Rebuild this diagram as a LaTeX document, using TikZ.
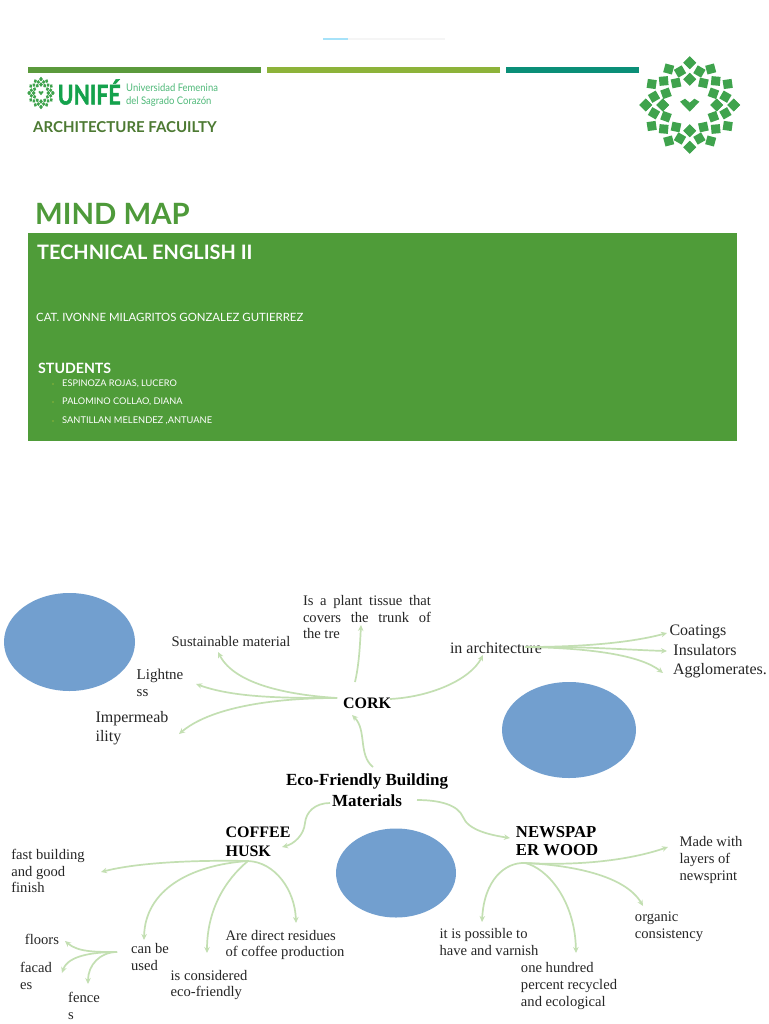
\documentclass[tikz,border=0pt]{standalone}
\usepackage{fontspec}
\usepackage{graphicx}
\setmainfont{Liberation Serif}
\newfontfamily\headfont{Lato}
\newfontfamily\unifefont[BoldFeatures={FakeBold=2}]{Lato}
\usetikzlibrary{calc,arrows.meta,shapes.geometric}
\definecolor{linkgreen}{HTML}{C3DFB2}
\definecolor{panelgreen}{HTML}{4F9C39}
\definecolor{bluefill}{HTML}{729FCF}
\definecolor{logogreen}{HTML}{3FA34D}
\definecolor{unifegreen}{HTML}{14A24C}
\definecolor{barA}{HTML}{5B9A3C}
\definecolor{barB}{HTML}{8DB33A}
\definecolor{barC}{HTML}{0B8F78}
\definecolor{facgreen}{HTML}{4D7A33}
\definecolor{titlegreen}{HTML}{4E9A3A}
\tikzset{
  link/.style={draw=linkgreen,line width=1.7pt,-{Stealth[length=6pt,width=5.5pt]}},
  bluedisc/.style={ellipse,fill=bluefill,inner sep=0pt},
  body/.style={inner sep=0pt,align=left,font=\fontsize{14.6}{16.6}\selectfont,text=black!85},
  bigbody/.style={body,font=\fontsize{16}{19}\selectfont},
  head/.style={inner sep=0pt,align=left,font=\fontsize{16}{18.6}\selectfont\bfseries},
  eco/.style={inner sep=0pt,align=center,font=\fontsize{17}{21}\selectfont\bfseries},
  hdr/.style={inner sep=0pt,anchor=west,font=\headfont},
  unifelogo/.pic={
    \foreach \sx in {1,-1}{\foreach \sy in {1,-1}{
      \foreach \dx/\dy/\r in {0/42.3/45,0/25.7/45,9.7/33.5/30,21/36/-15,13.7/22/12,26/24/5,38/21/-8,35.7/8.3/30,23.7/11.7/20,44/0/45,27/0/45}{
        \fill[logogreen,shift={({\sx*\dx},{\sy*\dy})},rotate={\sx*\sy*\r}] (-4.5,-4.5) rectangle (4.5,4.5);
      }
    }}
    \fill[logogreen] (-9.7,-3.3)--(-4.7,-6.3)--(0,-2.3)--(4.7,-6.3)--(9.7,-3.3)--(0,6.7)--cycle;
  }
}
\begin{document}
\begin{tikzpicture}[x=1pt,y=-1pt]
\useasboundingbox (0,0) rectangle (768,1024);
\fill[white] (0,0) rectangle (768,1024);
% header marks
\fill[black!4] (348,38.5) rectangle (445,40);
\fill[cyan!35] (323,38.5) rectangle (348,40);
\fill[barA] (28,67) rectangle (261,73);
\fill[barB] (267,67) rectangle (500,73);
\fill[barC] (506,67) rectangle (639,73);
\pic at (689.7,105) {unifelogo};
\pic[xscale=0.27,yscale=0.33] at (41,93) {unifelogo};
\node[hdr,text=unifegreen] (unife) at (57.5,92) {\scalebox{0.79}[1]{\fontsize{27}{27}\unifefont\bfseries UNIFÉ}};
\node[hdr,text=unifegreen!75] (univ) at (126,87.5) {\scalebox{0.9}[1]{\fontsize{10.5}{10.5}\selectfont Universidad Femenina}};
\node[hdr,text=unifegreen!75] (sagr) at (126,101.5) {\scalebox{0.9}[1]{\fontsize{10.5}{10.5}\selectfont del Sagrado Corazón}};
\node[hdr,text=facgreen] (fac) at (33,127.5) {\fontsize{15}{15}\selectfont\bfseries ARCHITECTURE FACUILTY};
\node[hdr,text=titlegreen] (title) at (35,214) {\fontsize{29.3}{30}\selectfont\bfseries MIND MAP};
\fill[panelgreen] (28,233) rectangle (737,441);
\node[hdr,text=white] (course) at (37,252) {\fontsize{19.9}{20}\selectfont\bfseries TECHNICAL ENGLISH II};
\node[hdr,text=white] (cat) at (36,317.5) {\fontsize{11.4}{12}\selectfont CAT. IVONNE MILAGRITOS GONZALEZ GUTIERREZ};
\node[hdr,text=white] (stud) at (38,368) {\fontsize{14.2}{15}\selectfont\bfseries STUDENTS};
\fill[barB] (53,384) circle (0.8);
\fill[barB] (53,402) circle (0.8);
\fill[barB] (53,421) circle (0.8);
\node[hdr,text=white] (sa) at (62,383.5) {\fontsize{9.2}{10}\selectfont ESPINOZA ROJAS, LUCERO};
\node[hdr,text=white] (sb) at (62,402) {\fontsize{9.2}{10}\selectfont PALOMINO COLLAO, DIANA};
\node[hdr,text=white] (sc) at (62,420.5) {\fontsize{9.3}{10}\selectfont SANTILLAN MELENDEZ ,ANTUANE};
% blue ellipses
\node[bluedisc,minimum width=131pt,minimum height=98pt] (discA) at (69.5,642) {};
\node[bluedisc,minimum width=134pt,minimum height=96pt] (discB) at (569,730) {};
\node[bluedisc,minimum width=120pt,minimum height=89pt] (discC) at (396,873) {};
% text nodes
\node[body] (plant) at (367,617) {\makebox[128pt][s]{Is a plant tissue that}\\\makebox[128pt][s]{covers the trunk of}\\the tre};
\node[body] (sust) at (231,641) {Sustainable material};
\node[body,font=\fontsize{15}{16.6}\selectfont] (light) at (160,683) {Lightne\\ss};
\node[bigbody] (imper) at (132,728) {Impermeab\\ility};
\node[bigbody] (arch) at (496,648) {in architecture};
\node[bigbody] (coat) at (698,632) {Coatings};
\node[bigbody] (insu) at (705,650) {Insulators};
\node[bigbody] (aggl) at (720,671) {Agglomerates.};
\node[head] (cork) at (367,703) {CORK};
\node[eco] (ecob) at (367,790) {Eco-Friendly Building\\Materials};
\node[head] (coffee) at (258,842) {COFFEE\\HUSK};
\node[head,font=\fontsize{16.7}{18.6}\selectfont\bfseries] (news) at (557,841) {NEWSPAP\\ER WOOD};
\node[body] (made) at (711,860) {Made with\\layers of\\newsprint};
\node[body] (organic) at (669,927) {organic\\consistency};
\node[body] (possible) at (489,942) {it is possible to\\have and varnish};
\node[body] (hundred) at (569,986) {one hundred\\percent recycled\\and ecological};
\node[body] (fast) at (48,871) {fast building\\and good\\finish};
\node[body] (direct) at (285,945) {Are direct residues\\of coffee production};
\node[body] (canbe) at (150,957) {can be\\used};
\node[body] (consid) at (209,985) {is considered\\eco-friendly};
\node[body] (floors) at (42,939) {floors};
\node[body] (facad) at (36,976) {facad\\es};
\node[body] (fence) at (84,1006) {fence\\s};
% connectors
\draw[link] ($(cork.center)+(-30,-5)$) .. controls (290,695) and (235,685) .. ($(sust.center)+(-13,11)$);
\draw[link] ($(cork.center)+(-30,-5)$) .. controls (285,698) and (235,698) .. ($(light.center)+(36,1)$);
\draw[link] ($(cork.center)+(-30,-5)$) .. controls (270,698) and (210,708) .. ($(imper.center)+(47,6)$);
\draw[link] ($(cork.center)+(-12,-21)$) .. controls (359,665) and (360,645) .. ($(plant.center)+(-6,8)$);
\draw[link] ($(cork.center)+(23,-4)$) .. controls (430,697) and (470,680) .. ($(arch.center)+(-13,7)$);
\draw[link] ($(arch.center)+(29,-1)$) .. controls (580,647) and (630,643) .. ($(coat.center)+(-31,1)$);
\draw[link] ($(arch.center)+(29,-1)$) .. controls (580,646) and (630,650) .. ($(insu.center)+(-38,1)$);
\draw[link] ($(arch.center)+(29,-1)$) .. controls (590,648) and (640,655) .. ($(aggl.center)+(-57,2)$);
\draw[link] ($(ecob.center)+(6,-23)$) .. controls (358,755) and (367,730) .. ($(cork.center)+(-15,12)$);
\draw[link] ($(ecob.center)+(-37,13)$) .. controls (315,803) and (306,812) .. (305,823) .. controls (304,835) and (294,844) .. ($(coffee.center)+(24,5)$);
\draw[link] ($(ecob.center)+(50,10)$) .. controls (440,800) and (458,805) .. (463,817) .. controls (468,830) and (490,835) .. ($(news.center)+(-47,-3)$);
\draw[link] ($(news.center)+(-32,22)$) .. controls (580,866) and (630,860) .. ($(made.center)+(-43,-13)$);
\draw[link] ($(news.center)+(-32,22)$) .. controls (570,865) and (625,875) .. ($(organic.center)+(-26,-21)$);
\draw[link] ($(news.center)+(-32,22)$) .. controls (547,868) and (575,900) .. ($(hundred.center)+(7,-33)$);
\draw[link] ($(news.center)+(-32,22)$) .. controls (505,862) and (484,880) .. ($(possible.center)+(-7,-20)$);
\draw[link] ($(coffee.center)+(-10,19)$) .. controls (200,860) and (140,862) .. ($(fast.center)+(53,1)$);
\draw[link] ($(coffee.center)+(-10,19)$) .. controls (190,865) and (145,890) .. ($(canbe.center)+(-6,-17)$);
\draw[link] ($(coffee.center)+(-10,19)$) .. controls (225,880) and (207,910) .. ($(consid.center)+(-2,-32)$);
\draw[link] ($(coffee.center)+(-10,19)$) .. controls (275,862) and (295,890) .. ($(direct.center)+(11,-22)$);
\draw[link] ($(canbe.center)+(-33,-5)$) .. controls (95,952) and (78,952) .. ($(floors.center)+(23,2)$);
\draw[link] ($(canbe.center)+(-33,-5)$) .. controls (95,952) and (68,955) .. ($(facad.center)+(26,-3)$);
\draw[link] ($(canbe.center)+(-33,-5)$) .. controls (100,952) and (88,965) .. ($(fence.center)+(4,-22)$);
\end{tikzpicture}
\end{document}
